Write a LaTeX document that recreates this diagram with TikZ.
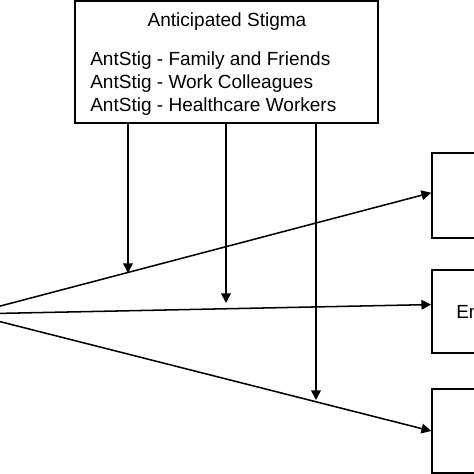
\documentclass[tikz,border=0pt]{standalone}
\usepackage{fontspec}
\setmainfont{Liberation Sans}
\usetikzlibrary{arrows.meta}

\tikzset{
  box/.style={draw, line width=1.6pt, inner sep=0pt},
  txt/.style={inner sep=0pt, font=\fontsize{13.7}{16.9}\selectfont},
  path/.style={line width=1.1pt, -{Triangle[length=7pt,width=7pt]}}
}

\begin{document}
\begin{tikzpicture}[x=0.72pt, y=-0.72pt]
\useasboundingbox (0,0) rectangle (474,474);
\clip (0,0) rectangle (474,474);

% moderator box
\node[box, minimum width=218pt, minimum height=88pt] (stigma) at (226.5,62) {};
\node[txt, anchor=base] (title) at (227,26) {Anticipated Stigma};
\node[txt, anchor=base west] (fam) at (90,65) {AntStig - Family and Friends};
\node[txt, anchor=base west] (work) at (90,88) {AntStig - Work Colleagues};
\node[txt, anchor=base west] (care) at (90,111) {AntStig - Healthcare Workers};

% outcome boxes, cut at the right edge
\node[box, minimum width=86pt, minimum height=61pt] (out1) at (492,195.5) {};
\node[box, minimum width=86pt, minimum height=60pt] (out2) at (492,311.5) {};
\node[box, minimum width=86pt, minimum height=61pt] (out3) at (492,431) {};
\node[txt, anchor=west] (em) at (456,312) {Em};

% predictor, off to the left
\coordinate (src) at (-30,314);

\draw[path] (src) -- ([yshift=2pt]out1.west);
\draw[path] (src) -- ([yshift=5pt]out2.west);
\draw[path] (src) -- (out3.west);

% moderation
\coordinate (m1) at (128,273);
\coordinate (m2) at (226,303);
\coordinate (m3) at (316,400);

\draw[path] (stigma.south -| m1) -- (m1);
\draw[path] (stigma.south -| m2) -- (m2);
\draw[path] (stigma.south -| m3) -- (m3);
\end{tikzpicture}
\end{document}
